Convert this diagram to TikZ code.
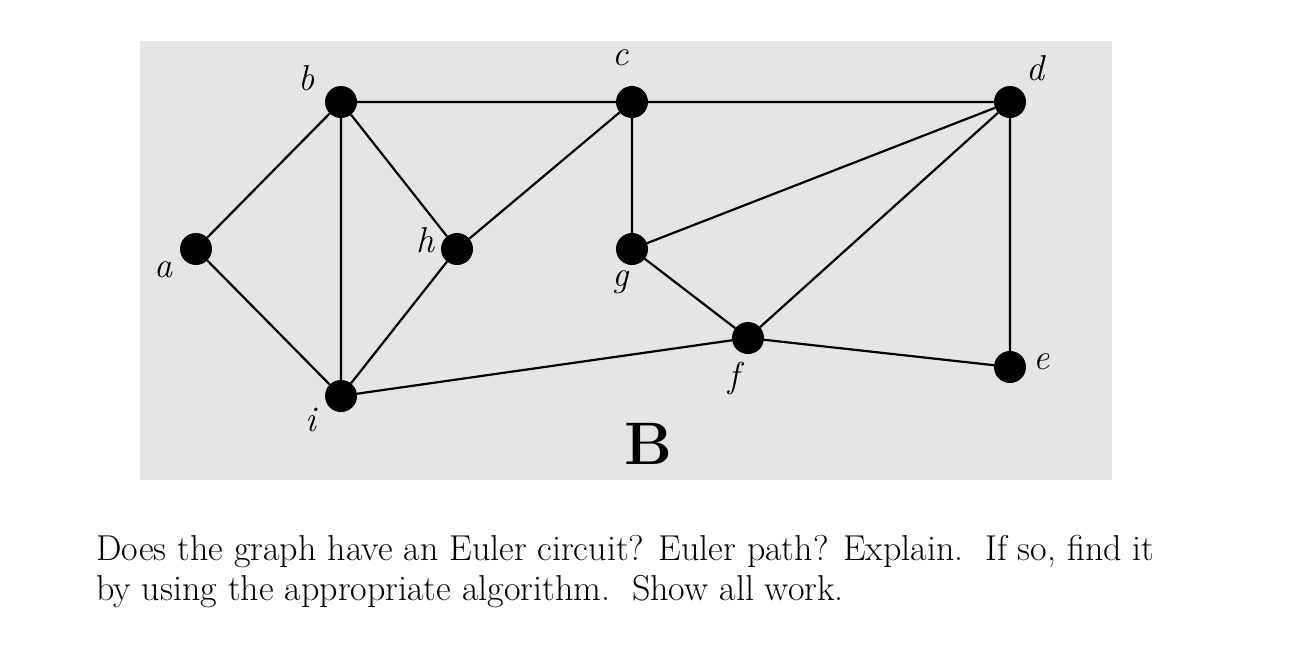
\documentclass[tikz,border=0pt]{standalone}
\begin{document}
\begin{tikzpicture}[x=1pt,y=-1pt,
  v/.style={circle,fill=black,inner sep=0pt,minimum size=32pt},
  lab/.style={font=\fontsize{36}{36}\selectfont\itshape},
  e/.style={line width=2.2pt}]
\useasboundingbox (0,0) rectangle (1301,662);
\fill[gray!20] (140,41) rectangle (1112,480);
\node[v] (a) at (196,249) {};
\node[v] (b) at (341,102) {};
\node[v] (c) at (632,102) {};
\node[v] (d) at (1010,102) {};
\node[v] (h) at (457,249) {};
\node[v] (g) at (632,249) {};
\node[v] (f) at (748,338) {};
\node[v] (ee) at (1010,367) {};
\node[v] (i) at (341,396) {};
\draw[e] (a)--(b) (a)--(i) (b)--(c) (c)--(d) (b)--(i) (b)--(h) (h)--(c) (h)--(i)
 (c)--(g) (g)--(d) (g)--(f) (f)--(d) (d)--(ee) (f)--(ee) (i)--(f);
\node[lab] (la) at (163,270) {a};
\node[lab] (lb) at (307,78) {b};
\node[lab] (lc) at (621,58) {c};
\node[lab] (ld) at (1035,68) {d};
\node[lab] (lh) at (425,240) {h};
\node[lab] (lg) at (621,282) {g};
\node[lab] (lf) at (734,378) {f};
\node[lab] (le) at (1042,362) {e};
\node[lab] (li) at (311,420) {i};
\node[font=\fontsize{60}{60}\selectfont\bfseries] (B) at (648,444) {B};
\node[anchor=base west,align=left,inner sep=0pt,font=\fontsize{36}{40}\selectfont] (t) at (96,600)
 {Does the graph have an Euler circuit? Euler path? Explain.\ \ If so, find it\\by using the appropriate algorithm.\ \ Show all work.};
\end{tikzpicture}
\end{document}
